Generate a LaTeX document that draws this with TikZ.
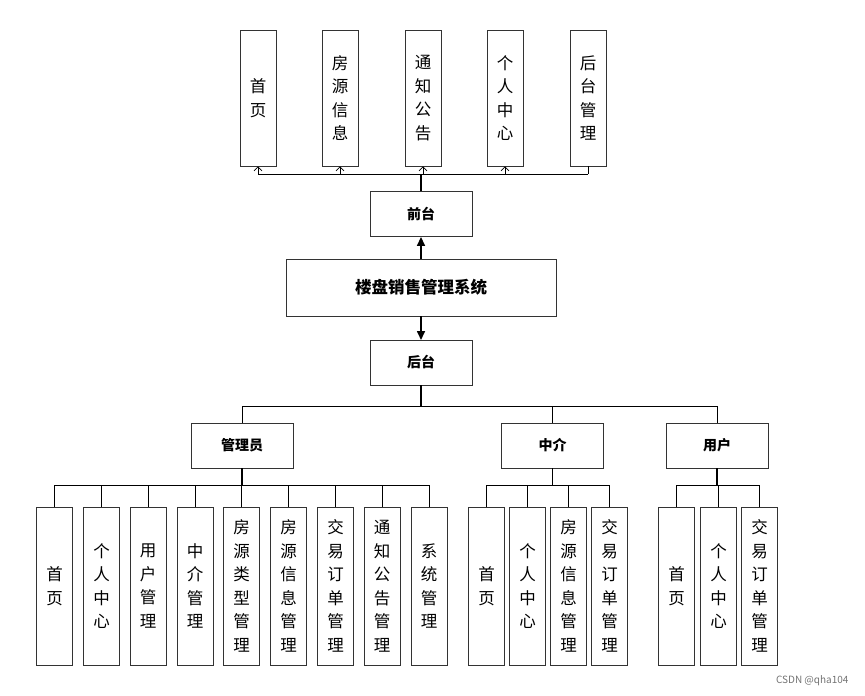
\documentclass[tikz,border=0pt]{standalone}
\usepackage{fontspec}
\setmainfont{Noto Sans CJK SC}
\usetikzlibrary{arrows.meta}
\begin{document}
\begin{tikzpicture}[x=1pt,y=-1pt,
  box/.style={draw=black!80,line width=0.9pt,fill=white,inner sep=0pt},
  vbox/.style={box,minimum width=36pt,align=center,font=\fontsize{16.5}{23.5}\selectfont},
  hbox/.style={box,minimum width=102pt,minimum height=45pt,font=\fontsize{14}{16}\selectfont\bfseries},
  ln/.style={line width=0.9pt},
  oarr/.style={ln,-{Straight Barb[length=4pt,width=8pt,line width=0.6pt]}},
  thk/.style={line width=1.6pt,-{Triangle[length=9pt,width=8pt]}}]
\useasboundingbox (0,0) rectangle (865,696);
% top boxes
\foreach \n/\x/\t in {t1/258/首\\页, t2/340/房\\源\\信\\息, t3/423/通\\知\\公\\告, t4/505/个\\人\\中\\心, t5/588/后\\台\\管\\理}
  \node[vbox,minimum height=136pt] (\n) at (\x,98) {\t};
\node[hbox] (qt) at (421,214) {前台};
\node[box,minimum width=270pt,minimum height=57pt,font=\fontsize{16.5}{18}\selectfont\bfseries] (main) at (421,287.5) {楼盘销售管理系统};
\node[hbox] (ht) at (421,362.5) {后台};
\coordinate (tj) at (421,174);
\draw[line width=1.6pt] (qt.north) -- (tj);
\draw[ln] (t1.south |- tj) -- (t5.south |- tj);
\foreach \n in {t1,t2,t3,t4} \draw[oarr] (\n.south |- tj) -- (\n.south);
\draw[ln] (t5.south |- tj) -- (t5.south);
\draw[thk] (main.north) -- (qt.south);
\draw[thk] (main.south) -- (ht.south |- 0,340);
% roles
\node[hbox] (gl) at (242,445.5) {管理员};
\node[hbox] (zj) at (552.5,445.5) {中介};
\node[hbox] (yh) at (717,445.5) {用户};
\coordinate (rj) at (421,406);
\draw[line width=1.6pt] (ht.south) -- (rj);
\draw[ln] (gl.north |- rj) -- (yh.north |- rj);
\foreach \n in {gl,zj,yh} \draw[ln] (\n.north |- rj) -- (\n.north);
% children
\foreach \n/\x/\t in {a1/54.5/首\\页, a2/101.5/个\\人\\中\\心, a3/148/用\\户\\管\\理, a4/195/中\\介\\管\\理, a5/241.5/房\\源\\类\\型\\管\\理, a6/288.5/房\\源\\信\\息\\管\\理, a7/335.5/交\\易\\订\\单\\管\\理, a8/382/通\\知\\公\\告\\管\\理, a9/429/系\\统\\管\\理,
  b1/486.5/首\\页, b2/527.5/个\\人\\中\\心, b3/568.5/房\\源\\信\\息\\管\\理, b4/609.5/交\\易\\订\\单\\管\\理,
  c1/676.5/首\\页, c2/718.5/个\\人\\中\\心, c3/759.5/交\\易\\订\\单\\管\\理}
  \node[vbox,minimum height=158pt] (\n) at (\x,586) {\t};
\coordinate (gj) at (242,485);
\draw[line width=1.6pt] (gl.south) -- (gj);
\draw[ln] (a1.north |- gj) -- (a9.north |- gj);
\foreach \n in {a1,a2,a3,a4,a5,a6,a7,a8,a9} \draw[ln] (\n.north |- gj) -- (\n.north);
\coordinate (zjj) at (552.5,485);
\draw[line width=1.6pt] (zj.south) -- (zjj);
\draw[ln] (b1.north |- zjj) -- (b4.north |- zjj);
\foreach \n in {b1,b2,b3,b4} \draw[ln] (\n.north |- zjj) -- (\n.north);
\coordinate (yj) at (717,485);
\draw[line width=1.6pt] (yh.south) -- (yj);
\draw[ln] (c1.north |- yj) -- (c3.north |- yj);
\foreach \n in {c1,c2,c3} \draw[ln] (\n.north |- yj) -- (\n.north);
\node[text=black!55,font=\fontsize{10}{12}\selectfont,anchor=east] (wm) at (852,681) {CSDN @qha104};
\end{tikzpicture}
\end{document}
